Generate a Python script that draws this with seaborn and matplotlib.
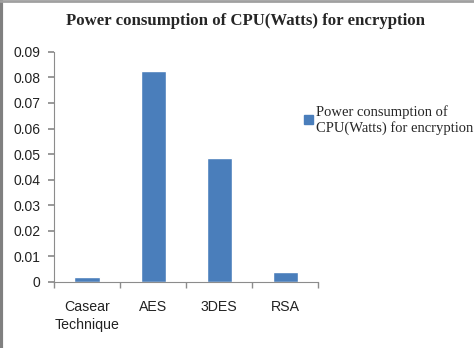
import matplotlib
matplotlib.use("Agg")
import matplotlib.pyplot as plt
import seaborn as sns
import pandas as pd
import numpy as np

categories = ["Casear\nTechnique", "AES", "3DES", "RSA"]
power = [0.002, 0.0826, 0.0485, 0.0037]
series_name = "Power consumption of\nCPU(Watts) for encryption"
yticks = [0, 0.01, 0.02, 0.03, 0.04, 0.05, 0.06, 0.07, 0.08, 0.09]
yticklabels = ["0", "0.01", "0.02", "0.03", "0.04", "0.05", "0.06", "0.07", "0.08", "0.09"]

sns.set_theme(style="white")
plt.rcParams['font.family'] = ['Liberation Sans', 'DejaVu Sans']

df = pd.DataFrame({"cat": categories, "val": power})

fig = plt.figure(figsize=(4.74, 3.48), dpi=100)
ax = fig.add_axes([0.114, 0.19, 0.557, 0.661])
sns.barplot(data=df, x="cat", y="val", color="#4a7ebb", width=0.38, ax=ax, saturation=1)

ax.set_ylim(0, 0.09)
ax.set_xlim(-0.5, 3.5)
ax.set_yticks(yticks)
ax.set_yticklabels(yticklabels, fontsize=10, color="#222222")
ax.set_xticks([0, 1, 2, 3])
ax.set_xticklabels(categories, fontsize=10.2, color="#222222", linespacing=1.35)
ax.set_xlabel("")
ax.set_ylabel("")
for s in ["top", "right"]:
    ax.spines[s].set_visible(False)
for s in ["left", "bottom"]:
    ax.spines[s].set_color("#8c8c8c")
    ax.spines[s].set_linewidth(0.8)
ax.tick_params(axis="y", which="both", left=True, length=4, color="#8c8c8c", pad=6)
ax.tick_params(axis="x", which="major", bottom=False, pad=7)
ax.set_xticks([-0.5, 0.5, 1.5, 2.5, 3.5], minor=True)
ax.tick_params(axis="x", which="minor", bottom=True, length=4, color="#8c8c8c")

fig.text(0.517, 0.94, "Power consumption of CPU(Watts) for encryption",
         ha="center", va="center", fontsize=12.1, fontweight="bold",
         family=["Liberation Serif", "DejaVu Serif"])

# legend
handle = plt.Rectangle((0, 0), 1, 1, color="#4a7ebb")
fig.legend([handle], [series_name], loc="upper left", bbox_to_anchor=(0.63, 0.715),
           frameon=False, prop={"family": ["Liberation Serif"], "size": 10.5},
           handlelength=0.6, handleheight=0.6, handletextpad=0.2, borderaxespad=0)

# image frame (gray left and top border)
fig.add_artist(plt.Line2D([0.003, 0.003], [0, 1], color="#808080", lw=3, transform=fig.transFigure))
fig.add_artist(plt.Line2D([0, 1], [0.997, 0.997], color="#a0a0a0", lw=2, transform=fig.transFigure))

fig.savefig("out.png", dpi=100)
